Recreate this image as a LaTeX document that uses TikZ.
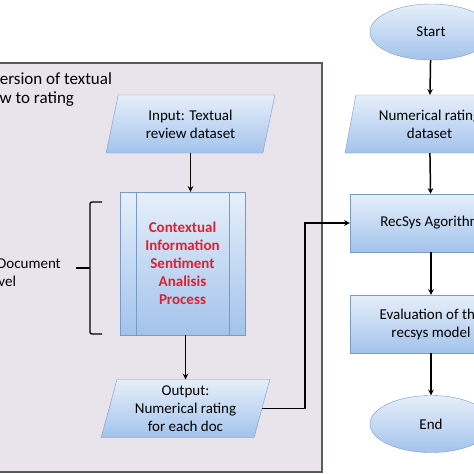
\documentclass[tikz,border=0pt]{standalone}
\usepackage{fontspec}
\setmainfont{Carlito}
\usetikzlibrary{shapes.geometric, shadows, arrows, positioning, calc}
\definecolor{boxline}{RGB}{120,155,200}
\definecolor{boxtop}{RGB}{230,239,250}
\definecolor{boxbot}{RGB}{163,195,236}
\definecolor{framefill}{RGB}{233,228,235}
\definecolor{framedraw}{RGB}{90,90,90}
\definecolor{procred}{RGB}{222,32,48}

\tikzset{
  flow/.style={draw=boxline, top color=boxtop, bottom color=boxbot, align=center, font=\fontsize{15}{18}\selectfont, inner sep=1pt},
  data/.style={flow, trapezium, trapezium left angle=76, trapezium right angle=104, trapezium stretches=true, minimum width=169pt, minimum height=58pt},
  stepbox/.style={flow, rectangle, minimum width=162pt, minimum height=58pt},
  term/.style={flow, ellipse, minimum width=122pt, minimum height=56pt},
  link/.style={->, >=stealth, line width=1.5pt, black},
  note/.style={align=left, inner sep=0pt}
}

\begin{document}
\begin{tikzpicture}[x=1pt, y=-1pt]
\useasboundingbox (0,0) rectangle (474,474);
% frame of the conversion part
\draw[framedraw, fill=framefill, line width=1.3pt] (-5,63) rectangle (322,472);
\node[note, anchor=north west, font=\fontsize{17}{19.5}\selectfont] (title) at (-34.6,72) {Conversion of textual\\review to rating};

\node[data] (inp) at (190.5,124) {Input: Textual\\review dataset};
\node[flow, minimum width=125pt, minimum height=143pt, font=\fontsize{15}{18}\selectfont\bfseries, text=procred] (proc) at (182.5,263.5) {Contextual\\Information\\Sentiment\\Analisis\\Process};
\draw[boxline] ([xshift=16pt]proc.north west) -- ([xshift=16pt]proc.south west);
\draw[boxline] ([xshift=-16pt]proc.north east) -- ([xshift=-16pt]proc.south east);
\node[data] (out) at (185.5,408.5) {Output:\\Numerical rating\\for each doc};

% bracket of the document level
\draw[line width=1.4pt, rounded corners=2pt] (102,202) -- (90,202) -- (90,334) -- (102,334);
\draw[line width=1.4pt] (76,268) -- (90,268);
\node[note, anchor=north west, font=\fontsize{15}{18}\selectfont] (lvl) at (-3,259) {Document\\\hspace*{-9.6pt}level};

% main flow
\node[term] (start) at (431,32) {Start};
\node[data] (num) at (429.5,124) {Numerical rating\\dataset};
\node[stepbox] (rec) at (431,223) {RecSys Agorithm};
\node[stepbox] (eval) at (431,324) {Evaluation of the\\recsys model};
\node[term, minimum height=57pt] (end) at (431,424) {End};

\draw[link] (inp.south) -- (inp.south |- proc.north);
\draw[link] (proc.south -| out.north) -- (out.north);
\coordinate (bend) at (305,223);
\draw[link] (out.east) -| (bend) -- (rec.west);

\draw[link] (start) -- (num);
\draw[link] (num) -- (rec);
\draw[link] (rec) -- (eval);
\draw[link] (eval) -- (end);
\end{tikzpicture}
\end{document}
